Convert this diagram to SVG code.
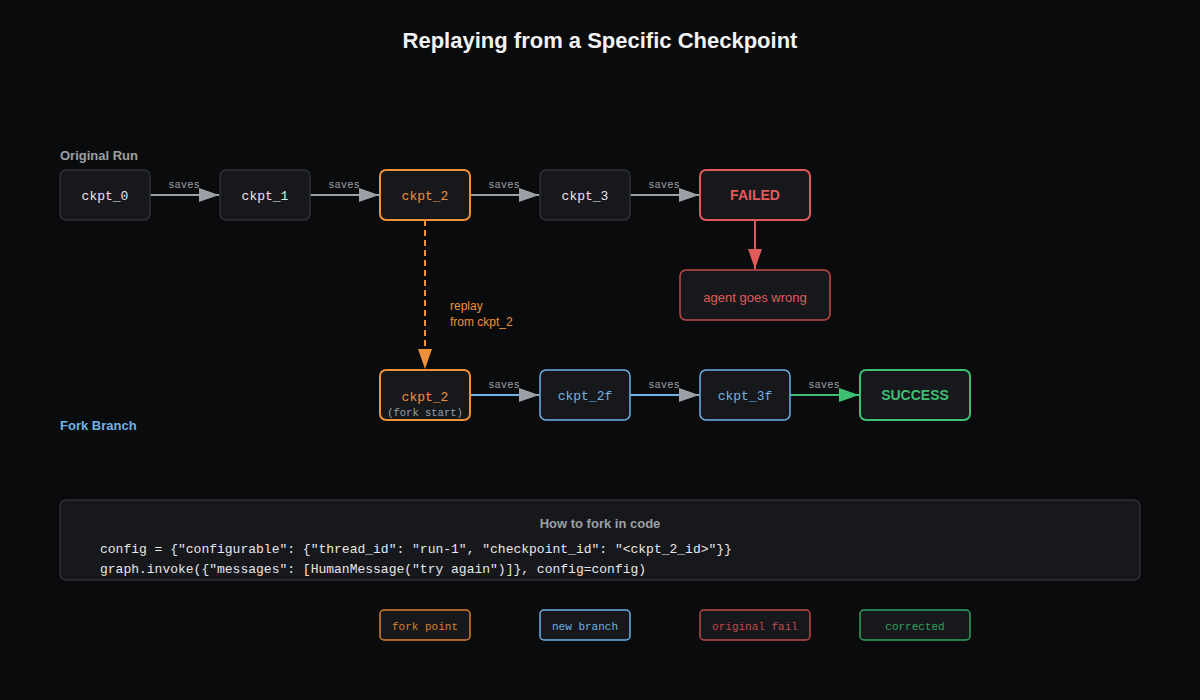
<svg xmlns="http://www.w3.org/2000/svg" width="1200" height="700" viewBox="0 0 1200 700">
<style>
.n{fill:#16181c;stroke:#2e3136;stroke-width:1.5}
.m{font-family:"Liberation Mono","DejaVu Sans Mono",monospace;font-size:13px;text-anchor:middle}
.s{font-family:"Liberation Mono","DejaVu Sans Mono",monospace;font-size:10.5px;text-anchor:middle;fill:#9aa0a6}
.t{font-family:"Liberation Sans",Arial,sans-serif}
.lg{font-family:"Liberation Mono","DejaVu Sans Mono",monospace;font-size:11px;text-anchor:middle}
</style>
<defs>
<marker id="ag" viewBox="0 0 10 10" refX="10" refY="5" markerWidth="20" markerHeight="14" markerUnits="userSpaceOnUse" orient="auto" preserveAspectRatio="none"><path d="M0,0L10,5L0,10z" fill="#9aa0a6"/></marker>
<marker id="agr" viewBox="0 0 10 10" refX="10" refY="5" markerWidth="20" markerHeight="14" markerUnits="userSpaceOnUse" orient="auto" preserveAspectRatio="none"><path d="M0,0L10,5L0,10z" fill="#3fbf74"/></marker>
<marker id="ar" viewBox="0 0 10 10" refX="10" refY="5" markerWidth="20" markerHeight="14" markerUnits="userSpaceOnUse" orient="auto" preserveAspectRatio="none"><path d="M0,0L10,5L0,10z" fill="#e05a5a"/></marker>
<marker id="ao" viewBox="0 0 10 10" refX="10" refY="5" markerWidth="20" markerHeight="14" markerUnits="userSpaceOnUse" orient="auto" preserveAspectRatio="none"><path d="M0,0L10,5L0,10z" fill="#f0913a"/></marker>
</defs>
<rect width="1200" height="700" fill="#0a0b0d"/>
<text x="600" y="48" class="t" font-size="22" font-weight="bold" fill="#f2f2f2" text-anchor="middle">Replaying from a Specific Checkpoint</text>
<text x="60" y="160" class="t" font-size="13" font-weight="bold" fill="#9aa0a6">Original Run</text>
<text x="60" y="430" class="t" font-size="13" font-weight="bold" fill="#6fb3e8">Fork Branch</text>
<g id="connectors" fill="none" stroke-width="2">
<path d="M150,195H219" stroke="#9aa0a6" marker-end="url(#ag)"/>
<path d="M310,195H379" stroke="#9aa0a6" marker-end="url(#ag)"/>
<path d="M470,195H539" stroke="#9aa0a6" marker-end="url(#ag)"/>
<path d="M630,195H699" stroke="#9aa0a6" marker-end="url(#ag)"/>
<path d="M755,220V269" stroke="#e05a5a" marker-end="url(#ar)"/>
<path d="M425,220V369" stroke="#f0913a" stroke-dasharray="6,4" marker-end="url(#ao)"/>
<path d="M470,395H539" stroke="#6fb3e8" marker-end="url(#ag)"/>
<path d="M630,395H699" stroke="#6fb3e8" marker-end="url(#ag)"/>
<path d="M790,395H859" stroke="#3fbf74" marker-end="url(#agr)"/>
<text x="184" y="188" class="s" stroke="none">saves</text>
<text x="344" y="188" class="s" stroke="none">saves</text>
<text x="504" y="188" class="s" stroke="none">saves</text>
<text x="664" y="188" class="s" stroke="none">saves</text>
<text x="504" y="388" class="s" stroke="none">saves</text>
<text x="664" y="388" class="s" stroke="none">saves</text>
<text x="824" y="388" class="s" stroke="none" fill="#3fbf74">saves</text>
<text x="450" y="310" class="t" font-size="12" fill="#f0913a" stroke="none">replay</text>
<text x="450" y="326" class="t" font-size="12" fill="#f0913a" stroke="none">from ckpt_2</text>
</g>
<g id="ckpt_0"><rect x="60" y="170" width="90" height="50" rx="6" class="n"/><text x="105" y="200" class="m" fill="#e8e8e8">ckpt_0</text></g>
<g id="ckpt_1"><rect x="220" y="170" width="90" height="50" rx="6" class="n"/><text x="265" y="200" class="m" fill="#e8e8e8">ckpt_1</text></g>
<g id="ckpt_2"><rect x="380" y="170" width="90" height="50" rx="6" class="n" style="stroke:#f0913a;stroke-width:2"/><text x="425" y="200" class="m" fill="#f0913a">ckpt_2</text></g>
<g id="ckpt_3"><rect x="540" y="170" width="90" height="50" rx="6" class="n"/><text x="585" y="200" class="m" fill="#e8e8e8">ckpt_3</text></g>
<g id="failed"><rect x="700" y="170" width="110" height="50" rx="6" class="n" style="stroke:#e05a5a;stroke-width:2"/><text x="755" y="200" class="t" font-size="14" font-weight="bold" fill="#e05a5a" text-anchor="middle">FAILED</text></g>
<g id="wrong"><rect x="680" y="270" width="150" height="50" rx="6" class="n" style="stroke:#c24a4a;stroke-width:1.5"/><text x="755" y="302" class="t" font-size="13" fill="#e05a5a" text-anchor="middle">agent goes wrong</text></g>
<g id="fork"><rect x="380" y="370" width="90" height="50" rx="6" class="n" style="stroke:#f0913a;stroke-width:2"/><text x="425" y="401" class="m" fill="#f0913a">ckpt_2</text><text x="425" y="416" class="s">(fork start)</text></g>
<g id="ckpt_2f"><rect x="540" y="370" width="90" height="50" rx="6" class="n" style="stroke:#6fb3e8;stroke-width:1.5"/><text x="585" y="400" class="m" fill="#6fb3e8">ckpt_2f</text></g>
<g id="ckpt_3f"><rect x="700" y="370" width="90" height="50" rx="6" class="n" style="stroke:#6fb3e8;stroke-width:1.5"/><text x="745" y="400" class="m" fill="#6fb3e8">ckpt_3f</text></g>
<g id="success"><rect x="860" y="370" width="110" height="50" rx="6" class="n" style="stroke:#3fbf74;stroke-width:2"/><text x="915" y="400" class="t" font-size="14" font-weight="bold" fill="#3fbf74" text-anchor="middle">SUCCESS</text></g>
<g id="code"><rect x="60" y="500" width="1080" height="80" rx="6" class="n"/>
<text x="600" y="528" class="t" font-size="13" font-weight="bold" fill="#9aa0a6" text-anchor="middle">How to fork in code</text>
<text x="100" y="553" font-family="'Liberation Mono','DejaVu Sans Mono',monospace" font-size="13" fill="#e8e8e8">config = {"configurable": {"thread_id": "run-1", "checkpoint_id": "&lt;ckpt_2_id&gt;"}}</text>
<text x="100" y="573" font-family="'Liberation Mono','DejaVu Sans Mono',monospace" font-size="13" fill="#e8e8e8">graph.invoke({"messages": [HumanMessage("try again")]}, config=config)</text></g>
<g id="legend">
<rect x="380" y="610" width="90" height="30" rx="4" class="n" style="stroke:#d9822b"/><text x="425" y="630" class="lg" fill="#d9822b">fork point</text>
<rect x="540" y="610" width="90" height="30" rx="4" class="n" style="stroke:#6fb3e8"/><text x="585" y="630" class="lg" fill="#6fb3e8">new branch</text>
<rect x="700" y="610" width="110" height="30" rx="4" class="n" style="stroke:#c24a4a"/><text x="755" y="630" class="lg" fill="#c24a4a">original fail</text>
<rect x="860" y="610" width="110" height="30" rx="4" class="n" style="stroke:#2fa360"/><text x="915" y="630" class="lg" fill="#2fa360">corrected</text>
</g>
</svg>
